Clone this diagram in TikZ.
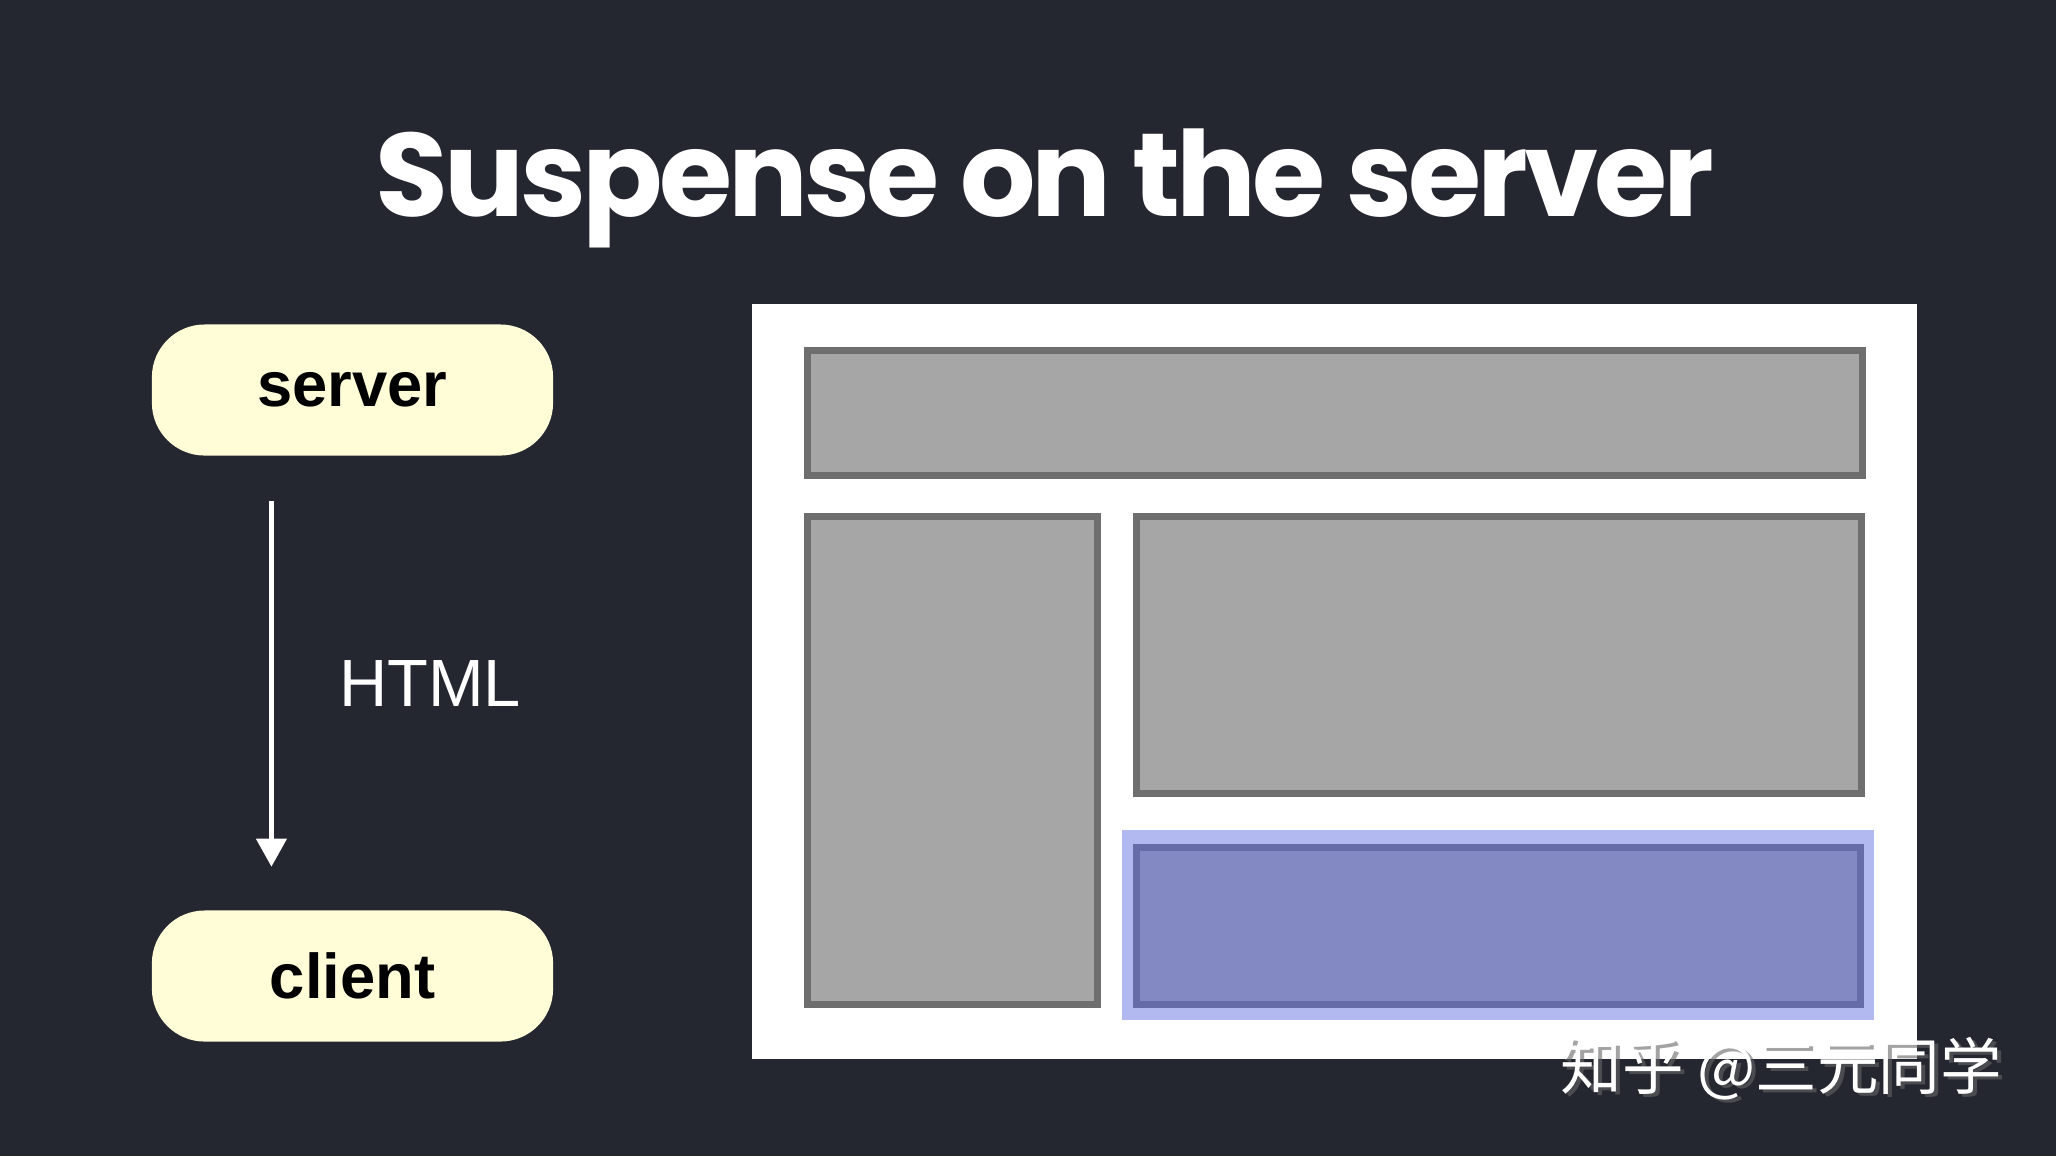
\documentclass[tikz,border=0pt]{standalone}
\usepackage{fontspec}
\setmainfont{Liberation Sans}
\newfontfamily\titlefont[LetterSpace=-3.4]{Poppins}
\newfontfamily\cjk{Noto Sans CJK SC}
\usetikzlibrary{arrows.meta}

\definecolor{slide}{RGB}{36,38,48}
\definecolor{cream}{RGB}{255,253,216}
\definecolor{blockfill}{RGB}{166,166,166}
\definecolor{blockline}{RGB}{110,110,110}
\definecolor{pendfill}{RGB}{131,137,194}
\definecolor{pendline}{RGB}{102,108,168}
\definecolor{pendglow}{RGB}{178,184,240}

\tikzset{
  endpoint/.style={fill=cream, rounded corners=15pt, minimum width=4.01cm,
    minimum height=1.31cm, font=\bfseries\fontsize{18}{20}\selectfont},
  block/.style={fill=blockfill, draw=blockline, line width=2pt},
  flow/.style={draw=white, line width=1.4pt, -{Triangle[width=8.5pt,length=8pt]}}
}

\begin{document}
\begin{tikzpicture}[x=0.01cm,y=-0.01cm]

\fill[slide] (0,0) rectangle (2056,1156);
\useasboundingbox (0,0) rectangle (2056,1156);

\node[anchor=base, text=white] (title) at (1045,216)
  {\titlefont\bfseries\fontsize{33.7}{42}\selectfont Suspense on the server};

\node[endpoint] (server) at (352.5,390) {\raisebox{-1.5pt}{server}};
\node[endpoint] (client) at (352.5,976) {\raisebox{-1.5pt}{client}};
\draw[flow, shorten <=0.45cm, shorten >=0.43cm]
  ([xshift=-0.81cm]server.south) -- ([xshift=-0.81cm]client.north);
\node[text=white, font=\fontsize{19}{22}\selectfont] (html) at (430,683) {HTML};

% page layout
\fill[white] (752,304) rectangle (1917,1059);
\draw[block] (807.5,350.5) rectangle (1862.5,475.5);
\draw[block] (807.5,516.5) rectangle (1097.5,1004.5);
\draw[block] (1136.5,516.5) rectangle (1861.5,793.5);

\begin{scope}
\fill[pendglow] (1122,830) rectangle (1874,1020);
\draw[fill=pendfill, draw=pendline, line width=2pt] (1136.5,847.5) rectangle (1860.5,1004.5);
\end{scope}

% watermark
\node[anchor=west, inner sep=0pt, text=black!60, opacity=0.6, font=\cjk\fontsize{17.5}{20}\selectfont]
  at (1564,1072) {知乎 @三元同学};
\node[anchor=west, inner sep=0pt, text=white, font=\cjk\fontsize{17.5}{20}\selectfont] (mark)
  at (1560,1069) {知乎 @三元同学};

\end{tikzpicture}
\end{document}
